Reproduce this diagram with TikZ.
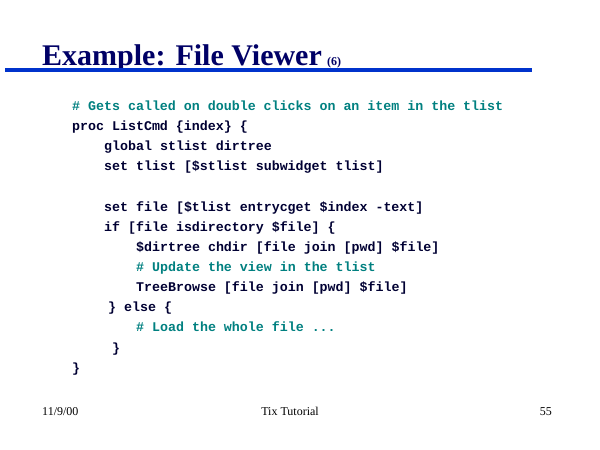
\documentclass[tikz,border=0pt]{standalone}
\usepackage{fontspec}
\setmainfont{Liberation Serif}
\setmonofont{Liberation Mono}
\definecolor{titleblue}{RGB}{0,0,102}
\definecolor{rulblue}{RGB}{0,51,204}
\definecolor{cmt}{RGB}{0,128,128}
\definecolor{codec}{RGB}{0,0,51}
\tikzset{
 code/.style={anchor=base west,inner sep=0pt,font=\fontsize{13.3}{14}\ttfamily\bfseries,text=codec},
 cmtline/.style={code,text=cmt},
 foot/.style={inner sep=0pt,anchor=base,font=\fontsize{12}{14}\selectfont}
}
\begin{document}
\begin{tikzpicture}[x=1pt,y=-1pt]
\useasboundingbox[fill=white] (0,0) rectangle (600,450);
\node[anchor=base west,inner sep=0pt,text=titleblue,font=\fontsize{30}{32}\selectfont\bfseries] (title) at (42,65) {Example: File Viewer};
\node[anchor=base west,inner sep=0pt,text=titleblue,font=\fontsize{12}{14}\selectfont\bfseries] (num) at (327,65) {(6)};
\fill[rulblue] (5,68) rectangle (532,71.5);
\node[cmtline] (l1) at (72,110) {\# Gets called on double clicks on an item in the tlist};
\node[code] (l2) at (72,130) {proc ListCmd \{index\} \{};
\node[code] (l3) at (104,150) {global stlist dirtree};
\node[code] (l4) at (104,170) {set tlist [\$stlist subwidget tlist]};
\node[code] (l5) at (104,211) {set file [\$tlist entrycget \$index -text]};
\node[code] (l6) at (104,231) {if [file isdirectory \$file] \{};
\node[code] (l7) at (136,251) {\$dirtree chdir [file join [pwd] \$file]};
\node[cmtline] (l8) at (136,271) {\# Update the view in the tlist};
\node[code] (l9) at (136,291) {TreeBrowse [file join [pwd] \$file]};
\node[code] (l10) at (108,311) {\} else \{};
\node[cmtline] (l11) at (136,331) {\# Load the whole file ...};
\node[code] (l12) at (112,352) {\}};
\node[code] (l13) at (72,372) {\}};
\node[foot,anchor=base west] (date) at (42,415) {11/9/00};
\node[foot] (tut) at (290,415) {Tix Tutorial};
\node[foot,anchor=base east] (pg) at (552,415) {55};
\end{tikzpicture}
\end{document}
